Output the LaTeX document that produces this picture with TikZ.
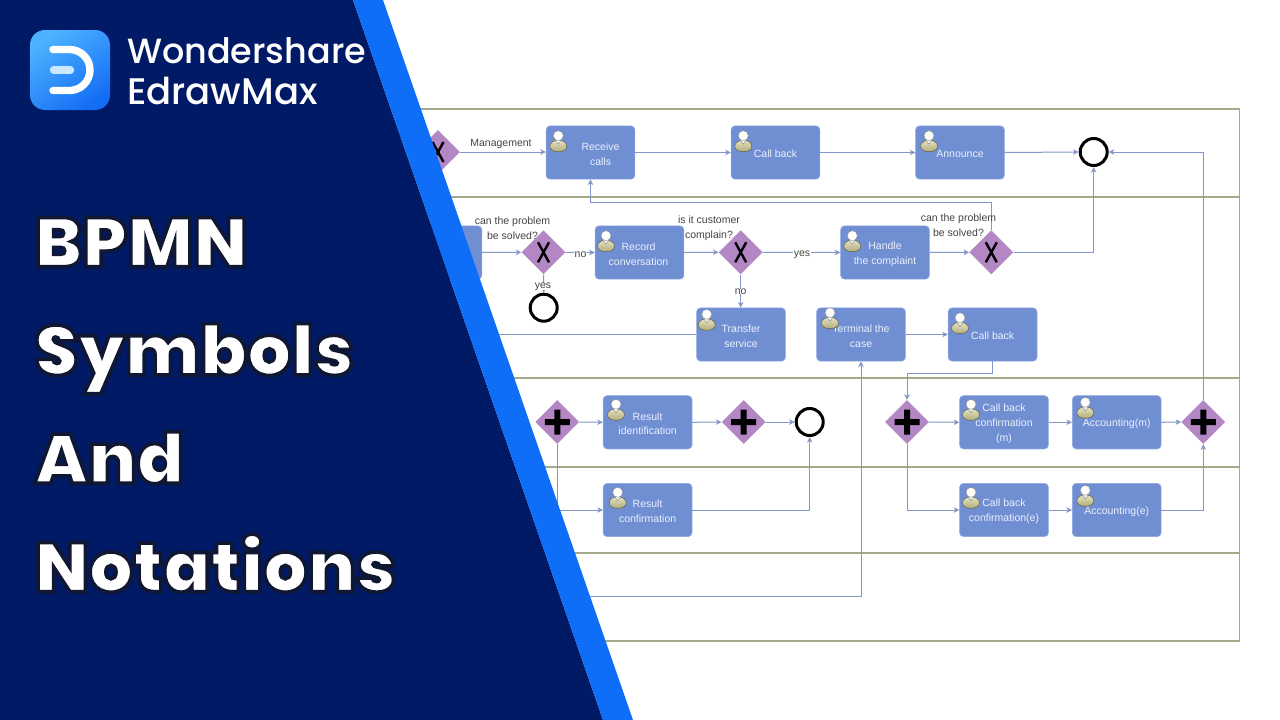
\documentclass[tikz,border=0pt]{standalone}
\usepackage{fontspec}
\usetikzlibrary{arrows.meta,shapes.geometric,calc}
\setmainfont{Liberation Sans}
\newfontfamily\popfont{Poppins Black}
\newfontfamily\brandfont{Poppins Medium}
\definecolor{navy}{HTML}{001A66}
\definecolor{bandblue}{HTML}{0F6EF8}
\definecolor{lanecol}{HTML}{A4A98C}
\definecolor{taskfill}{HTML}{708FD3}
\definecolor{taskedge}{HTML}{8FA8E2}
\definecolor{gatefill}{HTML}{B387C4}
\definecolor{conncol}{HTML}{8297C8}
\definecolor{labelcol}{HTML}{444444}
\definecolor{tasktextcol}{HTML}{EAF0FB}
\definecolor{bodytop}{HTML}{E4E2C2}
\definecolor{bodybot}{HTML}{B0AC7C}
\definecolor{logotop}{HTML}{4DB2FF}
\definecolor{logobot}{HTML}{146EF5}
\tikzset{
  x=1pt,y=-1pt,
  lane/.style={draw=lanecol,line width=1.6pt},
  taskbox/.style={draw=taskedge,line width=.6pt,fill=taskfill,rounded corners=4pt,minimum width=88.8pt,minimum height=53.3pt,inner sep=0pt},
  tasktext/.style={text=tasktextcol,align=center,inner sep=0pt,yshift=-1.5pt,font=\fontsize{10.5}{14.7}\selectfont},
  gate/.style={diamond,fill=gatefill,minimum width=44pt,minimum height=44pt,inner sep=0pt,aspect=1},
  endev/.style={circle,draw=black,line width=3pt,fill=white,minimum size=27pt,inner sep=0pt},
  conn/.style={draw=conncol,line width=1pt,-{Stealth[length=5.5pt,width=5.5pt,inset=1.5pt]}},
  edgelabel/.style={text=labelcol,align=center,inner sep=0pt,yshift=-1.5pt,font=\fontsize{10.5}{14.7}\selectfont},
  edgelabelbg/.style={edgelabel,fill=white,inner xsep=1pt,inner ysep=0pt},
  titletext/.style={anchor=base west,text=white,inner sep=0pt,font=\popfont\fontsize{69.5}{69.5}\selectfont},
  brandtext/.style={anchor=base west,text=white,inner sep=0pt},
  person/.pic={
    \draw[draw=black!45!bodybot,line width=.5pt,top color=bodytop,bottom color=bodybot]
      (-8.5,15.5) .. controls (-8.5,11.5) and (-4,9.5) .. (0,9.5) .. controls (4,9.5) and (8.5,11.5) .. (8.5,15.5) .. controls (8.5,19) and (5,21) .. (0,21) .. controls (-5,21) and (-8.5,19) .. (-8.5,15.5) -- cycle;
    \fill[white!85!bodytop] (-2.8,9.5) -- (2.8,9.5) -- (0,13.5) -- cycle;
    \draw[black!50,line width=.4pt] (-2.8,9.5) -- (0,13.5) -- (2.8,9.5);
    \draw[draw=black!45,line width=.4pt,fill=white!96!bodytop] (0,5) circle[radius=5pt];
  }
}
\newcommand{\xgate}[1]{\draw[black,line width=2.4pt] ($(#1)+(-5.5,-10)$) -- ($(#1)+(5.5,10)$) ($(#1)+(5.5,-10)$) -- ($(#1)+(-5.5,10)$);}
\newcommand{\pgate}[1]{\fill[black] ($(#1)+(-12.5,-3)$) rectangle ($(#1)+(12.5,3)$) ($(#1)+(-3,-12.5)$) rectangle ($(#1)+(3,12.5)$);}
\newcommand{\titleline}[3]{\node[titletext] (#1) at (34.5,#2) {\special{pdf:code 2 Tr 3.6 w 0.06 0.09 0.2 RG}#3\special{pdf:code 0 Tr 1 w}};}
\begin{document}
\begin{tikzpicture}
\useasboundingbox (0,0) rectangle (1280,720);
\fill[white] (0,0) rectangle (1280,720);
% lanes
\draw[lane] (400,109) rectangle (1239.3,640.7);
\foreach \yy in {196.7,377.7,466.7,552.7} \draw[lane] (400,\yy) -- (1239.3,\yy);
% tasks
\node[taskbox] (hid) at (437.5,252.5) {};
\node[taskbox,label={[tasktext,xshift=10pt]center:Receive\\calls}] (rc) at (590.5,152.5) {};
\node[taskbox,label={[tasktext]center:Call back}] (cb) at (775.5,152.5) {};
\node[taskbox,label={[tasktext]center:Announce}] (an) at (960,152.5) {};
\node[taskbox,label={[tasktext,xshift=-1pt]center:Record\\conversation}] (rec) at (639.5,252.5) {};
\node[taskbox,label={[tasktext]center:Handle\\the complaint}] (hc) at (885,252.5) {};
\node[taskbox,label={[tasktext]center:Transfer\\service}] (ts) at (741,334.5) {};
\node[taskbox,label={[tasktext]center:Terminal the\\case}] (tc) at (861,334.5) {};
\node[taskbox,label={[tasktext]center:Call back}] (cb2) at (992.6,334.5) {};
\node[taskbox,label={[tasktext]center:Result\\identification}] (ri) at (647.6,422.3) {};
\node[taskbox,label={[tasktext]center:Result\\confirmation}] (rf) at (647.6,510) {};
\node[taskbox,label={[tasktext]center:Call back\\confirmation\\(m)}] (cm) at (1004,422.3) {};
\node[taskbox,label={[tasktext]center:Accounting(m)}] (am) at (1116.7,422.3) {};
\node[taskbox,label={[tasktext]center:Call back\\confirmation(e)}] (ce) at (1004,510) {};
\node[taskbox,label={[tasktext]center:Accounting(e)}] (ae) at (1116.7,510) {};
% gateways
\node[gate] (gt) at (438,152) {};
\node[gate] (g1) at (543.5,252.3) {};
\node[gate] (g2) at (740.7,252.3) {};
\node[gate] (g3) at (991.3,252.3) {};
\node[gate] (p1) at (557.3,422) {};
\node[gate] (p2) at (743.7,422) {};
\node[gate] (p3) at (907,422) {};
\node[gate] (p4) at (1203.3,422) {};
\xgate{gt}\xgate{g1}\xgate{g2}\xgate{g3}
\pgate{p1}\pgate{p2}\pgate{p3}\pgate{p4}
% free ends
\coordinate (farleft) at (500,596.7);
% connectors
\draw[conn] (gt.east) -- (rc.west |- gt.east);
\draw[conn] (rc.east |- cb.west) -- (cb.west);
\draw[conn] (cb.east) -- (an.west);
\draw[conn] (g3.north) -- ($(g3.north)+(0,-27.8)$) -| (rc.south);
\draw[conn] (hid.east) -- (g1.west);
\draw[conn] (rec.east) -- (g2.west);
\draw[conn] (hc.east) -- (g3.west);
\draw[conn] (ts.west) -| (hid.south);
\draw[conn] (tc.east) -- (cb2.west);
\draw[conn] (cb2.south) -- ($(cb2.south)+(0,12.2)$) -| (p3.north);
\draw[conn] (p1.east) -- (ri.west);
\draw[conn] (ri.east) -- (p2.west);
\draw[conn] (p3.east) -- (cm.west);
\draw[conn] (cm.east) -- (am.west);
\draw[conn] (am.east) -- (p4.west);
\draw[conn] (ce.east) -- (ae.west);
\draw[conn] (ae.east) -| (p4.south);
\draw[conn] (p3.south) |- (ce.west);
\draw[conn] (p1.south) |- (rf.west);
\draw[conn] (farleft) -| (tc.south);
% end events
\node[endev] (e1) at (1093.7,152) {};
\node[endev] (e2) at (543.7,307.7) {};
\node[endev] (e3) at (809.7,422) {};
\draw[conn] (an.east) -- (e1.west);
\draw[conn] (g3.east) -| (e1.south);
\draw[conn] (p4.north) |- (e1.east);
\draw[conn] (p2.east) -- (e3.west);
\draw[conn] (rf.east) -| (e3.south);
\draw[conn] (g1.south) -- (e2.north);
\draw[conn] (g1.east) -- (rec.west);
\draw[conn] (g2.east) -- (hc.west);
\draw[conn] (g2.south) -- (ts.north -| g2.south);
% labels on connectors
\node[edgelabelbg] (lno1) at (580.5,253) {no};
\node[edgelabelbg] (lyes1) at (543,285) {yes};
\node[edgelabelbg] (lno2) at (740.7,290) {no};
\node[edgelabelbg] (lyes2) at (802,253) {yes};
\node[edgelabel] (lman) at (501,142) {Management};
\node[edgelabel] (lq1) at (512.5,226.5) {can the problem\\be solved?};
\node[edgelabel] (lq2) at (709,226.5) {is it customer\\complain?};
\node[edgelabel] (lq3) at (958.5,224) {can the problem\\be solved?};
% person icons
\foreach \px/\py in {558.3/130.7,743.3/130.7,929/130.7,606/230.7,852.3/230.7,706.7/309.3,830/307.7,960/312.7,616/399.3,617.7/487.3,971/399.3,1085.3/397.3,971/487.3,1085.3/485.3}
  \pic at (\px,\py) {person};
% left panel
\fill[navy] (0,0) -- (353,0) -- (603,720) -- (0,720) -- cycle;
\fill[bandblue] (353,0) -- (383,0) -- (633,720) -- (603,720) -- cycle;
% logo
\shade[rounded corners=15pt,top color=logotop,bottom color=logobot,shading angle=35] (30,30) rectangle (110,110);
\draw[white,line width=7.4pt,line cap=round] (53,49.5) -- (69.5,49.5) .. controls (80.8,49.5) and (90,58.7) .. (90,70) .. controls (90,81.3) and (80.8,90.5) .. (69.5,90.5) -- (53,90.5);
\draw[white!70!logotop,line width=7.4pt,line cap=round] (53.5,70) -- (70.5,70);
\node[brandtext,font=\brandfont\fontsize{35}{35}\selectfont] (b1) at (127,63.5) {Wondershare};
\node[brandtext,font=\brandfont\fontsize{37}{37}\selectfont] (b2) at (127,104) {EdrawMax};
\titleline{t1}{266.7}{BPMN}
\titleline{t2}{375}{Symbols}
\titleline{t3}{483.3}{And}
\titleline{t4}{591.7}{Notations}
\end{tikzpicture}
\end{document}
